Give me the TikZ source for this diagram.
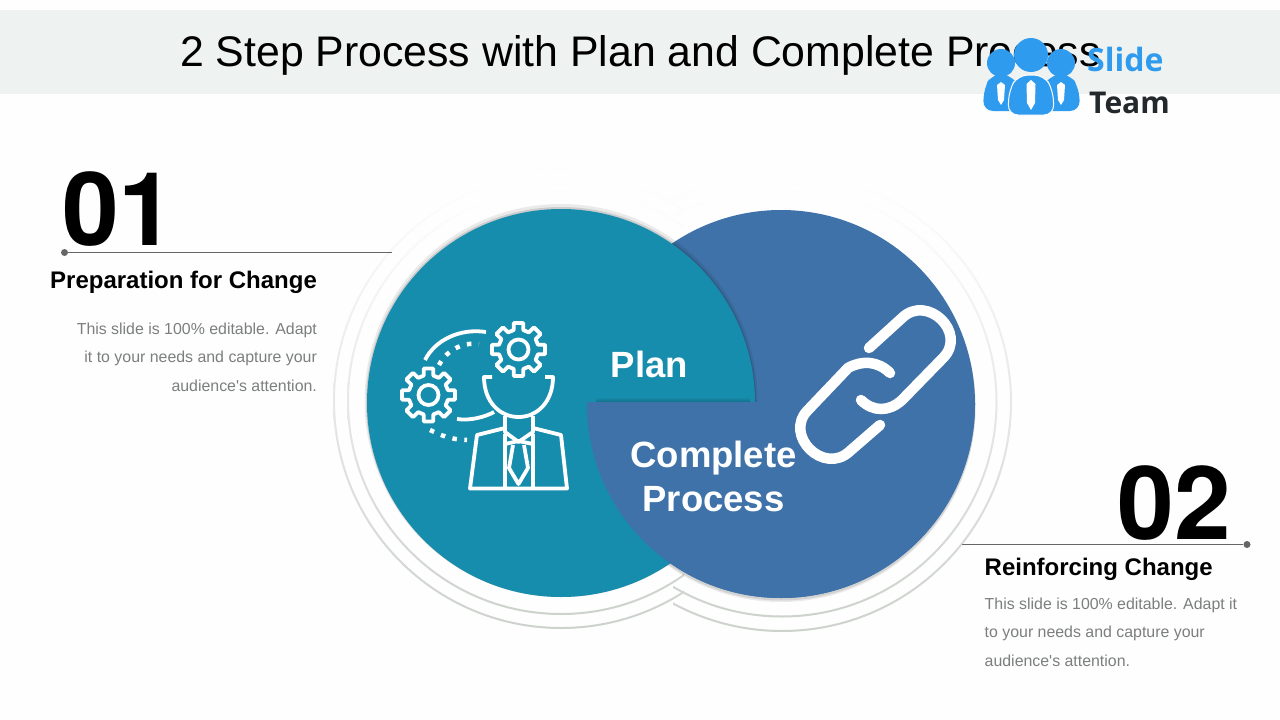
\documentclass[tikz,border=0pt]{standalone}
\usepackage{fontspec}
\setmainfont{Liberation Sans}
\newfontfamily\bodyfont{Liberation Sans}
\newfontfamily\numfont{TeX Gyre Heros}
\newfontfamily\logofont{Open Sans}
\usepackage{tikz}
\usetikzlibrary{positioning}

\definecolor{pagewhite}{HTML}{FDFEFD}
\definecolor{bandgrey}{HTML}{EEF2F0}
\definecolor{planteal}{HTML}{178DAD}
\definecolor{doneblue}{HTML}{3F72A9}
\definecolor{logoblue}{HTML}{2F9BEF}
\definecolor{logodark}{HTML}{23282C}
\definecolor{leadgrey}{HTML}{666666}
\definecolor{bodygrey}{HTML}{7C7F7E}
\definecolor{rimgrey}{HTML}{CDD2CD}

\tikzset{
   titletext/.style = {inner sep=0, anchor=base west, font=\fontsize{42.8}{50}\selectfont},
   numtext/.style = {inner sep=0, font=\fontsize{102}{102}\selectfont\numfont\bfseries},
   headtext/.style = {inner sep=0, font=\fontsize{24}{28}\selectfont\bfseries},
   bodytext/.style = {inner sep=0, text=bodygrey, font=\fontsize{15.9}{28.5}\selectfont\bodyfont},
   circletext/.style = {inner sep=0, text=white, align=center, font=\fontsize{36.5}{44}\selectfont\bfseries},
   logotext/.style = {inner sep=0, anchor=base west, font=\logofont\bfseries},
   leaddot/.style = {circle, fill=leadgrey, inner sep=0, minimum size=7pt},
   leader/.style = {draw=leadgrey, line width=1pt},
   iconline/.style = {draw=white, line width=3.8pt, line join=round},
   linkline/.style = {draw=white, line width=10.5pt, line cap=round},
   rim/.style = {even odd rule, top color=white, bottom color=rimgrey},
   gearicon/.pic = {
      \draw[iconline] (-14:20) \foreach \a in {0,45,...,315} { -- (\a-14:20) -- (\a-10:27) -- (\a+10:27) -- (\a+14:20) } -- cycle;
      \draw[iconline] (0,0) circle[radius=10];
   }
}

\begin{document}
\begin{tikzpicture}[x=1pt, y=-1pt]
    \useasboundingbox (0,0) rectangle (1280,720);
    \fill[pagewhite] (0,0) rectangle (1280,720);
    \fill[bandgrey] (0,10) rectangle (1280,94);

    \node[titletext] (title) at (180,66) {2 Step Process with Plan and Complete Process};

    \coordinate (tealc) at (561,403);
    \coordinate (bluec) at (781,404);
    \coordinate (tealrimc) at (561,401);
    \coordinate (bluerimc) at (782,402);

    \begin{scope}
        \clip (673,0) rectangle (1280,720);
        \shade[rim] (bluerimc) circle[radius=230] circle[radius=228];
        \shade[rim] (bluerimc) circle[radius=215.5] circle[radius=213.5];
    \end{scope}
    \begin{scope}
        \clip (0,0) rectangle (684,720);
        \shade[rim] (tealrimc) circle[radius=228] circle[radius=226];
        \shade[rim] (tealrimc) circle[radius=214] circle[radius=212];
    \end{scope}

    \fill[black, opacity=0.08] ([yshift=-3.5pt]bluec) circle[radius=194.5];
    \fill[black, opacity=0.10] ([yshift=-2pt]bluec) circle[radius=194.5];
    \fill[doneblue] (bluec) circle[radius=194];
    \fill[black, opacity=0.08] ([yshift=2.5pt]tealc) circle[radius=196.5];
    \fill[black, opacity=0.12] ([yshift=1pt]tealc) circle[radius=195];
    \fill[planteal] (tealc) circle[radius=194];
    \shade[top color=planteal, bottom color=planteal!80!black] (596,397) rectangle (750,402);
    \begin{scope}
        \clip (500,402) rectangle (1000,720);
        \fill[doneblue] (bluec) circle[radius=194];
    \end{scope}

    \node[circletext] (plan) at (649.5,364) {Plan};
    \node[circletext] (complete) at (713.5,476) {Complete\\Process};

    \pic at (518.5,349.5) {gearicon};
    \pic at (428.5,395) {gearicon};
    \draw[iconline] (492,377) -- (484,377) .. controls (484,402) and (500,417) .. (518.5,417) .. controls (537,417) and (553,402) .. (553,377) -- (545,377);
    \draw[iconline] (505,416) -- (505,432) -- (518.5,442) -- (533,432) -- (533,416);
    \draw[iconline] (505,428) -- (477,435) -- (470,488.5) -- (567,488.5) -- (561,435) -- (533,428);
    \draw[iconline] (505,434) -- (505,488);
    \draw[iconline] (533,434) -- (533,488);
    \draw[iconline] (505,444) -- (518.5,441) -- (533,444);
    \draw[iconline] (513,445) -- (509,468) -- (518.5,484) -- (528,468) -- (524,445);
    \draw[iconline] (425,360) .. controls (435,340) and (460,328) .. (486,332);
    \draw[iconline] (457,419) .. controls (470,421) and (485,417) .. (494,412);
    \draw[iconline, line width=4.5pt, dash pattern=on 4.5pt off 7.5pt] (439,365) .. controls (447,350) and (462,342) .. (479,344);
    \draw[iconline, line width=4.5pt, dash pattern=on 4.5pt off 7.5pt] (430,430) .. controls (440,435) and (452,440) .. (467,440);

    \draw[linkline] (869,348) -- (902,318) .. controls (927,293.5) and (968,333) .. (943,358) -- (902,400) .. controls (889,412) and (873,412) .. (861,400);
    \draw[linkline] (890,373) .. controls (878,361) and (862,360) .. (848,368) -- (808,410) .. controls (783,435) and (824,476) .. (850,451) -- (880,425);

    \node[leaddot] (dota) at (64.5,252.5) {};
    \coordinate (enda) at (392,252.5);
    \path (dota) edge[leader] (enda);
    \node[leaddot] (dotb) at (1247,544.5) {};
    \coordinate (endb) at (962,544.5);
    \path (dotb) edge[leader] (endb);

    \node[numtext, anchor=base west] (numa) at (62,245) {01};
    \node[numtext, anchor=base east] (numb) at (1231,539) {02};

    \node[headtext, anchor=base west] (heada) at (50,288) {Preparation for Change};
    \node[headtext, anchor=base west] (headb) at (984.5,575.5) {Reinforcing Change};

    \node[bodytext, align=right, below left=29pt and 0pt of heada.south east] (bodya) {This slide is 100\% editable. Adapt\\it to your needs and capture your\\audience's attention.};
    \node[bodytext, align=left, below right=16.5pt and 0pt of headb.south west] (bodyb) {This slide is 100\% editable. Adapt it\\to your needs and capture your\\audience's attention.};

    \fill[logoblue] (1001,63) circle[radius=14];
    \fill[logoblue] (1061,63) circle[radius=14];
    \fill[logoblue, rounded corners=10pt] (983,111) -- (984,88) -- (992,74) -- (1010,74) -- (1020,88) -- (1020,111) -- cycle;
    \fill[logoblue, rounded corners=10pt] (1042,111) -- (1042,88) -- (1052,74) -- (1070,74) -- (1079,88) -- (1080,111) -- cycle;
    \fill[white] (1001,82) -- (1005,85) -- (1004,100) -- (1001,105) -- (998,100) -- (997,85) -- cycle;
    \fill[white] (1061,82) -- (1065,85) -- (1064,100) -- (1061,105) -- (1058,100) -- (1057,85) -- cycle;
    \fill[logoblue, draw=pagewhite, line width=1pt, rounded corners=10pt] (1008,115) -- (1009,90) -- (1018,75) -- (1044,75) -- (1053,90) -- (1054,115) -- cycle;
    \fill[logoblue] (1031,55) circle[radius=17];
    \fill[white] (1031,80) -- (1035.5,84) -- (1035,103) -- (1031,110) -- (1027,103) -- (1026.5,84) -- cycle;

    \node[logotext, text=logoblue, font=\fontsize{32}{32}\selectfont\logofont\bfseries] (slide) at (1087,71) {Slide};
    \node[logotext, text=logodark, font=\fontsize{30}{30}\selectfont\logofont\bfseries] (team) at (1089,113) {Team};
\end{tikzpicture}
\end{document}
